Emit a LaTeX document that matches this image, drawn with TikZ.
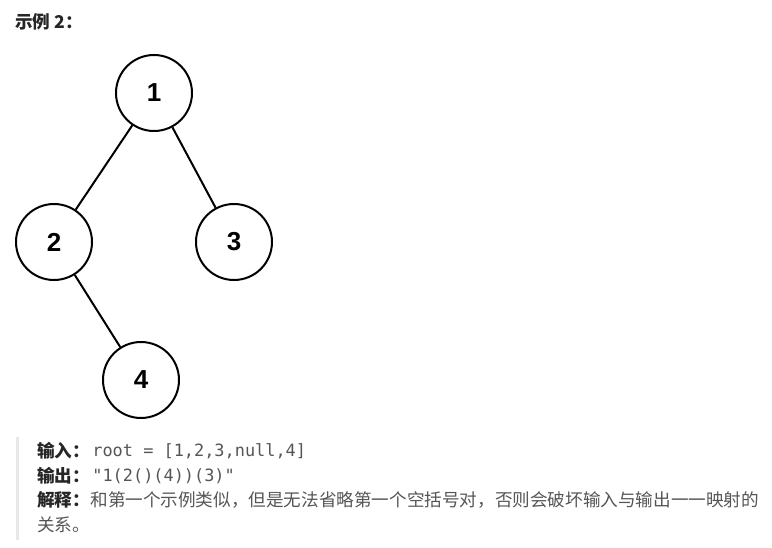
\documentclass[tikz,border=0pt]{standalone}
\usepackage{fontspec}
\usetikzlibrary{positioning}
\setmainfont{Liberation Sans}
\newfontfamily\cjk{Noto Sans CJK SC}
\newfontfamily\codefont{DejaVu Sans Mono}
\definecolor{textgray}{HTML}{555555}
\definecolor{labelblack}{HTML}{262626}
\definecolor{bargray}{HTML}{E8E8E8}

\begin{document}
\begin{tikzpicture}[x=1pt, y=-1pt]


\tikzstyle{node_style} = [circle, draw=black, fill=white, line width=2, minimum size=76pt, inner sep=0pt, font=\fontsize{26}{26}\selectfont\bfseries]
\tikzstyle{edge_style} = [draw=black, line width=2]
\tikzstyle{label_style} = [anchor=west, inner sep=0pt, text=labelblack, font=\cjk\fontsize{17.6}{20}\selectfont\bfseries]
\tikzstyle{text_style} = [anchor=west, inner sep=0pt, text=textgray, font=\cjk\fontsize{17.6}{20}\selectfont]
\tikzstyle{code_style} = [anchor=west, inner sep=0pt, text=textgray, font=\codefont\fontsize{16.9}{20}\selectfont]

\useasboundingbox (0,0) rectangle (772,548);

\node[label_style] (title) at (15, 22) {示例 2：};

\node[node_style] (v1) at (154, 93) {1};
\node[node_style] (v2) at (54, 242) {2};
\node[node_style] (v3) at (234, 242) {3};
\node[node_style] (v4) at (141, 380) {4};

\draw[edge_style]  (v1) edge (v2);
\draw[edge_style]  (v1) edge (v3);
\draw[edge_style]  (v2) edge (v4);

\fill[bargray] (16, 437) rectangle (19, 540);

\node[label_style] (in_lbl) at (37, 451) {输入：};
\node[code_style, right=2pt of in_lbl] (in_val) {root = [1,2,3,null,4]};
\node[label_style] (out_lbl) at (37, 476) {输出：};
\node[code_style, right=2pt of out_lbl] (out_val) {"1(2()(4))(3)"};
\node[label_style] (exp_lbl) at (37, 500) {解释：};
\node[text_style, right=0pt of exp_lbl] (exp_val) {和第一个示例类似，但是无法省略第一个空括号对，否则会破坏输入与输出一一映射的};
\node[text_style] (exp_end) at (37, 525) {关系。};


\end{tikzpicture}
\end{document}
